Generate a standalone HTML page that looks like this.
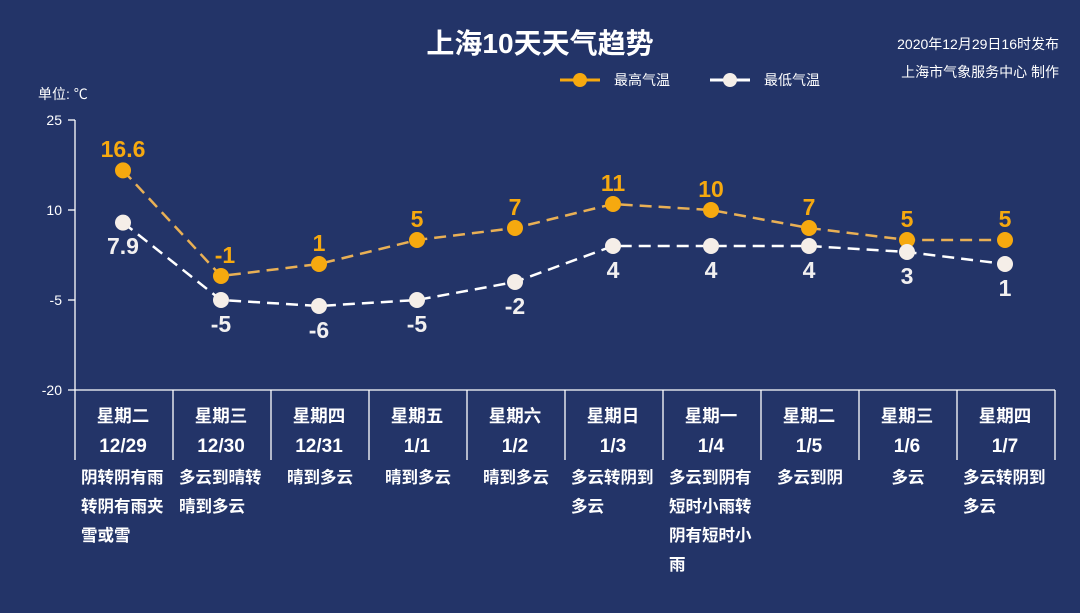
<!DOCTYPE html>
<html><head><meta charset="utf-8"><style>
body{margin:0;width:1080px;height:613px;background:#233468;overflow:hidden;font-family:"Liberation Sans","Noto Sans CJK SC",sans-serif;color:#fff;position:relative}
.w{position:absolute;top:464px;width:98px;text-align:center}
.w span{display:inline-block;text-align:left;width:86px;font-size:16.5px;font-weight:bold;line-height:29px;word-break:break-all}
.w span.c{text-align:center}
</style></head><body>
<svg width="1080" height="613" style="position:absolute;left:0;top:0" font-family="Liberation Sans, Noto Sans CJK SC, sans-serif">
<text x="540" y="53" text-anchor="middle" font-size="28" font-weight="bold" fill="#fff">上海10天天气趋势</text>
<text x="1059" y="49" text-anchor="end" font-size="14" fill="#fff">2020年12月29日16时发布</text>
<text x="1059" y="77" text-anchor="end" font-size="14" fill="#fff">上海市气象服务中心 制作</text>
<line x1="560" y1="80" x2="600" y2="80" stroke="#f6a90f" stroke-width="3"/><circle cx="580" cy="80" r="7" fill="#f6a90f"/>
<text x="614" y="85" font-size="14" fill="#fff">最高气温</text>
<line x1="710" y1="80" x2="750" y2="80" stroke="#fff" stroke-width="3"/><circle cx="730" cy="80" r="7" fill="#f5eee8"/>
<text x="764" y="85" font-size="14" fill="#fff">最低气温</text>
<text x="38" y="99" font-size="14" fill="#fff">单位: ℃</text>
<g stroke="#fff" stroke-width="1.3">
<line x1="75" y1="120" x2="75" y2="460"/>
<line x1="68" y1="120" x2="75" y2="120"/><line x1="68" y1="210" x2="75" y2="210"/><line x1="68" y1="300" x2="75" y2="300"/><line x1="68" y1="390" x2="1055" y2="390"/>
<line x1="173" y1="390" x2="173" y2="460"/><line x1="271" y1="390" x2="271" y2="460"/><line x1="369" y1="390" x2="369" y2="460"/><line x1="467" y1="390" x2="467" y2="460"/><line x1="565" y1="390" x2="565" y2="460"/><line x1="663" y1="390" x2="663" y2="460"/><line x1="761" y1="390" x2="761" y2="460"/><line x1="859" y1="390" x2="859" y2="460"/><line x1="957" y1="390" x2="957" y2="460"/><line x1="1055" y1="390" x2="1055" y2="460"/>
</g>
<g font-size="14" fill="#fff" text-anchor="end"><text x="62" y="125">25</text><text x="62" y="215">10</text><text x="62" y="305">-5</text><text x="62" y="395">-20</text></g>
<polyline fill="none" stroke="#e9b055" stroke-width="2.5" stroke-dasharray="12,7" points="123,170.4 221,276 319,264 417,240 515,228 613,204 711,210 809,228 907,240 1005,240"/>
<polyline fill="none" stroke="#fff" stroke-width="2.5" stroke-dasharray="12,7" points="123,222.6 221,300 319,306 417,300 515,282 613,246 711,246 809,246 907,252 1005,264"/>
<g fill="#f6a90f"><circle cx="123" cy="170.4" r="8"/><circle cx="221" cy="276" r="8"/><circle cx="319" cy="264" r="8"/><circle cx="417" cy="240" r="8"/><circle cx="515" cy="228" r="8"/><circle cx="613" cy="204" r="8"/><circle cx="711" cy="210" r="8"/><circle cx="809" cy="228" r="8"/><circle cx="907" cy="240" r="8"/><circle cx="1005" cy="240" r="8"/></g>
<g fill="#f5eee8"><circle cx="123" cy="222.6" r="8"/><circle cx="221" cy="300" r="8"/><circle cx="319" cy="306" r="8"/><circle cx="417" cy="300" r="8"/><circle cx="515" cy="282" r="8"/><circle cx="613" cy="246" r="8"/><circle cx="711" cy="246" r="8"/><circle cx="809" cy="246" r="8"/><circle cx="907" cy="252" r="8"/><circle cx="1005" cy="264" r="8"/></g>
<g font-size="23" font-weight="bold" fill="#f6a90f" text-anchor="middle">
<text x="123" y="157">16.6</text><text x="225" y="263">-1</text><text x="319" y="251">1</text><text x="417" y="227">5</text><text x="515" y="215">7</text><text x="613" y="191">11</text><text x="711" y="197">10</text><text x="809" y="215">7</text><text x="907" y="227">5</text><text x="1005" y="227">5</text></g>
<g font-size="23" font-weight="bold" fill="#f2f0f0" text-anchor="middle">
<text x="123" y="254">7.9</text><text x="221" y="332">-5</text><text x="319" y="338">-6</text><text x="417" y="332">-5</text><text x="515" y="314">-2</text><text x="613" y="278">4</text><text x="711" y="278">4</text><text x="809" y="278">4</text><text x="907" y="284">3</text><text x="1005" y="296">1</text></g>
<g font-size="17.5" font-weight="bold" fill="#fff" text-anchor="middle">
<text x="123" y="422">星期二</text><text x="221" y="422">星期三</text><text x="319" y="422">星期四</text><text x="417" y="422">星期五</text><text x="515" y="422">星期六</text><text x="613" y="422">星期日</text><text x="711" y="422">星期一</text><text x="809" y="422">星期二</text><text x="907" y="422">星期三</text><text x="1005" y="422">星期四</text></g>
<g font-size="19" font-weight="bold" fill="#fff" text-anchor="middle">
<text x="123" y="452">12/29</text><text x="221" y="452">12/30</text><text x="319" y="452">12/31</text><text x="417" y="452">1/1</text><text x="515" y="452">1/2</text><text x="613" y="452">1/3</text><text x="711" y="452">1/4</text><text x="809" y="452">1/5</text><text x="907" y="452">1/6</text><text x="1005" y="452">1/7</text></g>
</svg>
<div class="w" style="left:75px"><span>阴转阴有雨转阴有雨夹雪或雪</span></div>
<div class="w" style="left:173px"><span>多云到晴转晴到多云</span></div>
<div class="w" style="left:271px"><span class="c">晴到多云</span></div>
<div class="w" style="left:369px"><span class="c">晴到多云</span></div>
<div class="w" style="left:467px"><span class="c">晴到多云</span></div>
<div class="w" style="left:565px"><span>多云转阴到多云</span></div>
<div class="w" style="left:663px"><span>多云到阴有短时小雨转阴有短时小雨</span></div>
<div class="w" style="left:761px"><span class="c">多云到阴</span></div>
<div class="w" style="left:859px"><span class="c">多云</span></div>
<div class="w" style="left:957px"><span>多云转阴到多云</span></div>
</body></html>
